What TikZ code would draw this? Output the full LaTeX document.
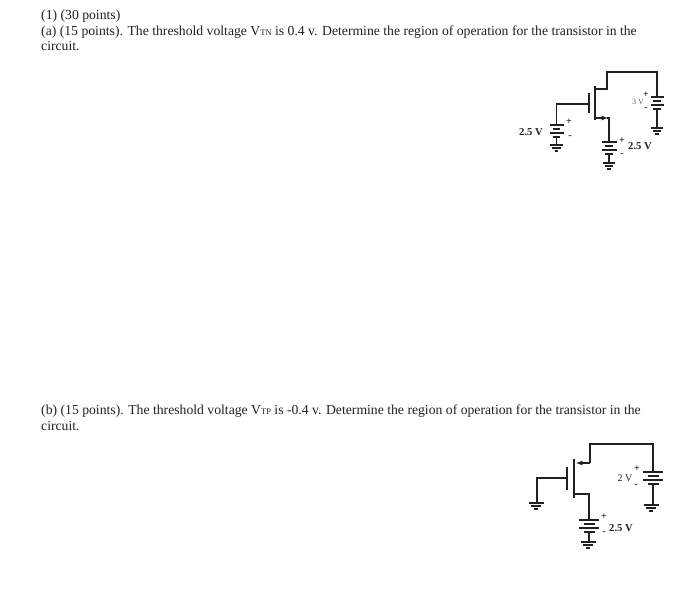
\documentclass[tikz,border=0pt]{standalone}
\usepackage{fontspec}
\setmainfont{Liberation Serif}
\usepackage{tikz}
\usetikzlibrary{arrows}

\definecolor{ink}{gray}{0.13}

% ground symbol at (x,y), half width of the top bar as third argument
\newcommand{\gnd}[3]{
\draw [wire] (#1-#3,#2) -- (#1+#3,#2);
\draw [wire] (#1-0.65*#3,#2+3) -- (#1+0.65*#3,#2+3);
\draw [wire] (#1-0.3*#3,#2+6) -- (#1+0.3*#3,#2+6);
}
% four battery plates below (x,y): long, short, long, short
\newcommand{\batt}[3]{
\draw [wire] (#1-#3,#2) -- (#1+#3,#2);
\draw [wire] (#1-0.55*#3,#2+4) -- (#1+0.55*#3,#2+4);
\draw [wire] (#1-#3,#2+8) -- (#1+#3,#2+8);
\draw [wire] (#1-0.55*#3,#2+12) -- (#1+0.55*#3,#2+12);
}

\begin{document}
\begin{tikzpicture}[x=1pt,y=-1pt,
  wire/.style={draw=ink, line width=1.2pt},
  txt/.style={anchor=base west, inner sep=0pt, text=ink, font=\fontsize{13.7}{16}\selectfont},
  lab/.style={inner sep=0pt, text=ink, font=\fontsize{10.6}{12}\selectfont\bfseries},
  sgn/.style={inner sep=0pt, text=ink, font=\fontsize{10}{11}\selectfont\bfseries}]
\useasboundingbox [fill=white] (0,0) rectangle (700,608);

\node [txt] (title) at (41,19) {(1) (30 points)};
\node [txt] (parta) at (41,35) {(a) (15 points). The threshold voltage V{\fontsize{8.5}{9}\selectfont TN} is 0.4 v. Determine the region of operation for the transistor in the};
\node [txt] (partaend) at (41,50) {circuit.};
\node [txt] (partb) at (41,414) {(b) (15 points). The threshold voltage V{\fontsize{8.5}{9}\selectfont TP} is -0.4 v. Determine the region of operation for the transistor in the};
\node [txt] (partbend) at (41,430) {circuit.};

% first circuit
\draw [wire] (595,89) -- (607,89) -- (607,72) -- (657,72) -- (657,97);
\draw [wire] (595,86) -- (595,120);
\draw [wire] (589,93) -- (589,113);
\draw [wire] (589,104) -- (556.5,104) -- (556.5,125);
\draw [wire, -latex] (595,118) -- (608,118);
\draw [wire] (607,118) -- (609,118) -- (609,142);

\batt{556.5}{125}{7}
\draw [wire] (556.5,137) -- (556.5,145);
\gnd{556.5}{145}{6.5}
\batt{609}{142}{7.5}
\draw [wire] (609,154) -- (609,163);
\gnd{609}{163}{6}
\batt{657}{97}{6.5}
\draw [wire] (657,109) -- (657,128);
\gnd{657}{128}{6}

\node [lab] (vga) at (531,132) {2.5 V};
\node [sgn] (vgap) at (569,122) {+};
\node [sgn] (vgam) at (570,137) {-};
\node [inner sep=0pt, text=ink!70, font=\fontsize{8}{9}\selectfont] (vda) at (638,102) {3 V};
\node [sgn] (vdap) at (646,95) {+};
\node [sgn] (vdam) at (646,109) {-};
\node [lab] (vsa) at (640,146) {2.5 V};
\node [sgn] (vsap) at (622,141) {+};
\node [sgn] (vsam) at (622,155) {-};

% second circuit
\draw [wire, -latex] (590,463) -- (576,463);
\draw [wire] (590,463) -- (590,444) -- (653,444) -- (653,472);
\draw [wire] (574,459) -- (574,498);
\draw [wire] (567,467) -- (567,490);
\draw [wire] (567,478) -- (537,478) -- (537,503);
\draw [wire] (574,494) -- (589,494) -- (589,520);

\gnd{536}{503}{7.5}
\batt{589}{520}{10}
\draw [wire] (589,532) -- (589,542);
\gnd{588}{542}{7.5}
\batt{653}{472}{10}
\draw [wire] (653,484) -- (653,505);
\gnd{651}{505}{7.5}

\node [inner sep=0pt, text=ink, font=\fontsize{10}{11}\selectfont] (vdb) at (625,478) {2 V};
\node [sgn] (vdbp) at (637,469) {+};
\node [sgn] (vdbm) at (636,486) {-};
\node [lab] (vsb) at (621,528) {2.5 V};
\node [sgn] (vsbp) at (604,517) {+};
\node [sgn] (vsbm) at (604,533) {-};
\end{tikzpicture}
\end{document}
